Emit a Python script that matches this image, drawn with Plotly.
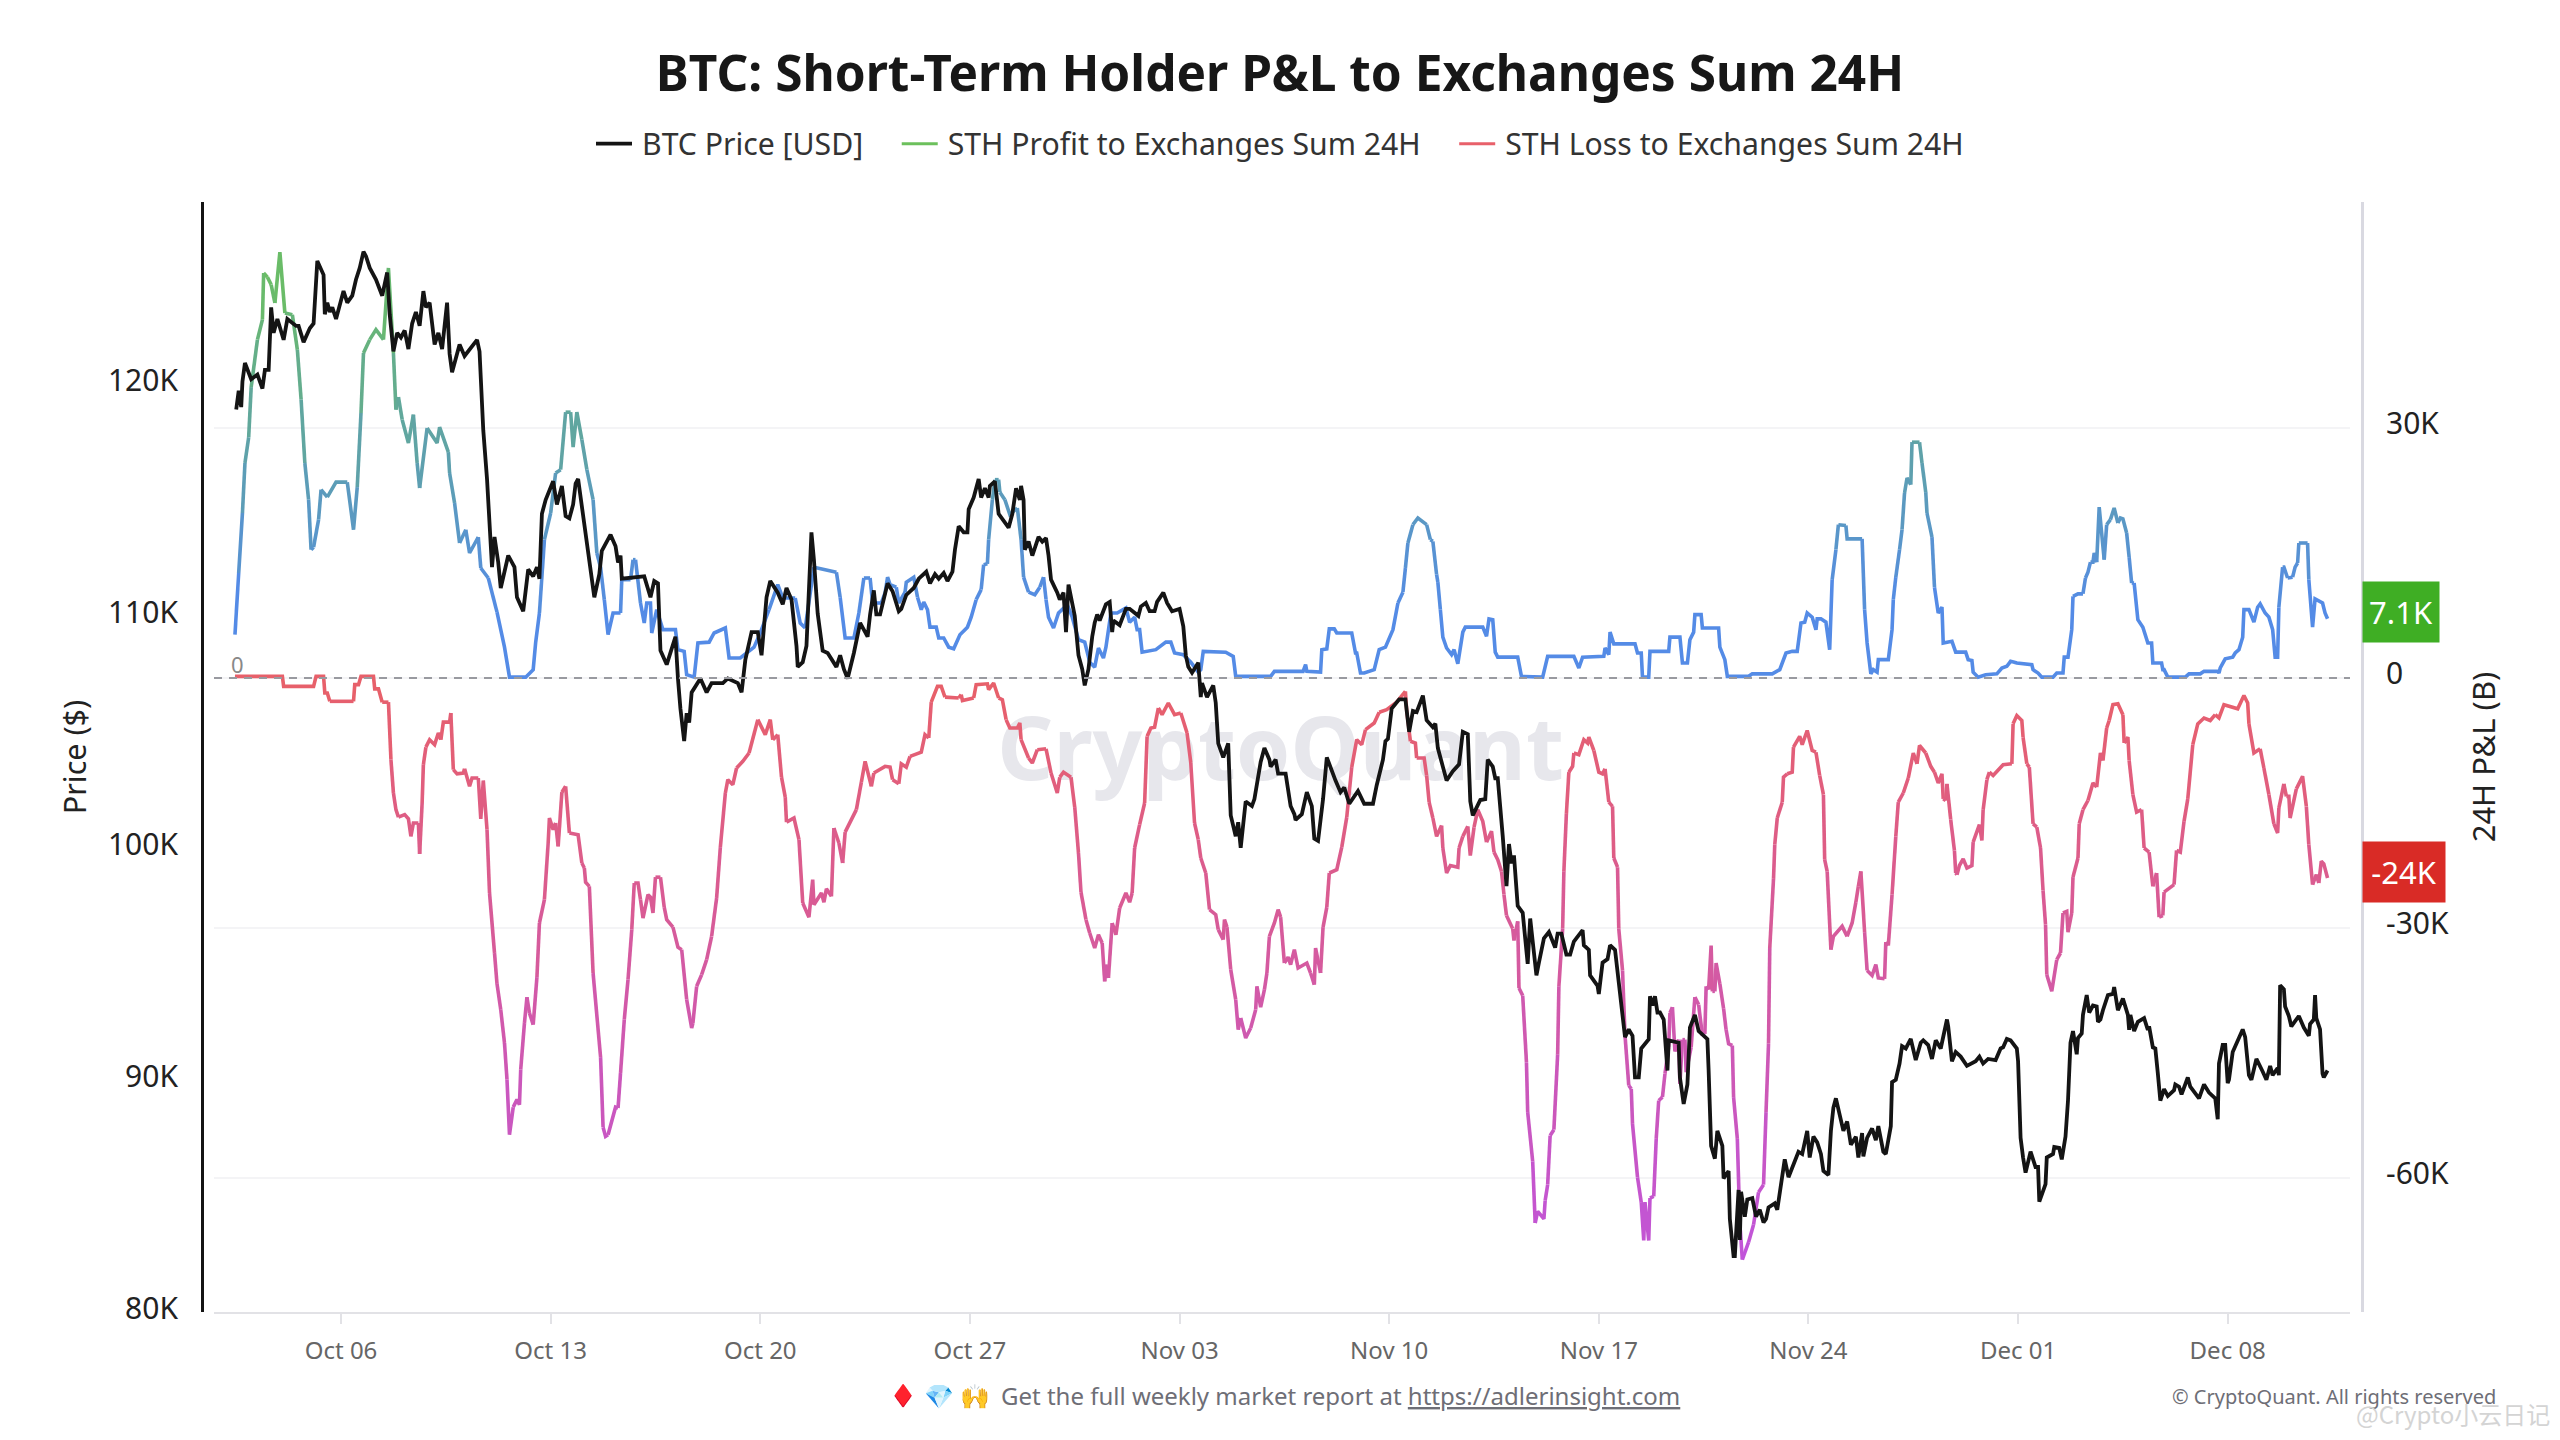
import pandas as pd
import plotly.graph_objects as go

TITLE = "BTC: Short-Term Holder P&L to Exchanges Sum 24H"
FONT = "Noto Sans"
START = pd.Timestamp("2025-10-02 11:00")
TICK_DATES = ["2025-10-06", "2025-10-13", "2025-10-20", "2025-10-27", "2025-11-03",
              "2025-11-10", "2025-11-17", "2025-11-24", "2025-12-01", "2025-12-08"]
TICK_TEXT = ["Oct 06", "Oct 13", "Oct 20", "Oct 27", "Nov 03", "Nov 10", "Nov 17", "Nov 24", "Dec 01", "Dec 08"]
PRICE_TICKS = [80, 90, 100, 110, 120]
PRICE_TEXT = ["80K", "90K", "100K", "110K", "120K"]
PNL_TICKS = [-60, -30, 0, 30]
PNL_TEXT = ["-60K", "-30K", "0", "30K"]

# (hours since START, value); values in thousands
price_points = [(1,118.9),(3,119.7),(5,119),(6,120.1),(8,120.9),(13,120.2),(18,120.4),(22,119.8),(24,120.6),(27,120.6),(29,123.3),(31,122.2),(34,122.8),(39,121.9),(42,122.8),(49,122.5),(51,122.5),(55,121.8),(60,122.4),(63,122.6),(66,125.3),(71,124.7),(72,123),(74,123.5),(76,123.1),(78,123.3),(81,122.8),(87,124),(90,123.5),(94,123.8),(97,124.5),(100,125),(103,125.7),(105,125.5),(108,125),(113,124.5),(118,123.8),(122,124.8),(124,123),(127,121.4),(130,122.2),(133,122),(136,122.3),(139,121.5),(142,122.6),(145,123.1),(148,122.5),(151,124),(153,123.3),(156,123.5),(160,121.7),(163,122.2),(166,121.5),(170,123.5),(172,121.3),(174,120.5),(178,121.3),(180,121.7),(184,121.2),(188,121.5),(194,121.9),(196,121.4),(199,118),(202,115.9),(204,114),(206,112.1),(208,113.4),(211,112.3),(213,111.2),(219,112.6),(224,112.1),(226,110.8),(231,110.2),(235,112),(239,111.7),(242,112.1),(244,111.6),(246,114.4),(249,115),(255,115.8),(258,114.8),(262,115.6),(265,114.3),(268,114.2),(271,114.8),(273,115.7),(275,115.9),(280,114),(285,112),(288,110.8),(292,111.8),(294,112.8),(301,113.5),(305,113),(307,112.3),(309,112.6),(310,111.6),(328,111.7),(333,110.8),(336,111.5),(339,111.4),(341,108.5),(346,107.9),(353,109.1),(355,107.3),(357,106),(360,104.6),(362,105.8),(364,105.4),(366,106.7),(373,107.3),(378,106.7),(382,107.1),(391,107.1),(395,107.3),(403,107.1),(406,106.7),(409,108.1),(414,109.3),(419,109.3),(422,108.3),(426,110.8),(429,111.5),(435,111),(439,110.5),(442,111.2),(446,110.7),(450,108.7),(451,107.8),(455,108),(458,108.7),(462,113.6),(464,112.4),(467,110.1),(471,108.5),(475,108.4),(482,107.8),(485,108.3),(488,107.7),(491,107.3),(496,108.4),(501,109.7),(507,109.1),(509,110.06),(512,111.1),(514,110.06),(517,110.06),(519,110.56),(523,111.4),(527,111.06),(531,110.4),(532,110.2),(534,110.3),(538,110.9),(544,111.2),(548,111.6),(554,111.9),(557,111.4),(561,111.8),(564,111.6),(568,111.85),(571,111.5),(575,111.9),(577,112.85),(580,113.86),(584,113.6),(587,113.6),(588,114.6),(592,115.1),(596,115.9),(598,115.1),(601,115.5),(604,115.1),(605,115.6),(609,115.8),(612,114.4),(620,113.8),(623,114.4),(626,115.5),(629,115),(630,115.6),(632,115),(633,112.85),(636,113.2),(639,112.6),(644,113.4),(647,113.2),(650,113.35),(652,112.6),(654,111.56),(659,111),(661,110.7),(664,111),(666,109.3),(668,111.35),(673,110),(676,108.3),(679,107.7),(681,107),(684,107.7),(687,109.1),(689,109.7),(691,110.06),(693,109.8),(698,110.5),(701,110.6),(703,109.3),(704,109.8),(709,109.6),(714,110.3),(717,110.3),(724,110),(726,110.4),(730,110.56),(733,110.2),(737,110.2),(739,110.6),(744,111),(747,110.56),(751,110.2),(757,110.3),(760,109.55),(762,108.3),(764,107.8),(767,107.55),(772,107.98),(774,106.5),(775,107.1),(779,106.5),(784,107),(786,106.25),(788,104.5),(792,103.9),(796,104.5),(798,101.4),(802,100.5),(804,101.1),(806,100),(810,102),(815,101.8),(817,102.1),(822,103.7),(825,104.3),(829,103.8),(830,103.5),(834,103.8),(836,103.2),(842,103.2),(846,101.8),(849,101.45),(850,101.2),(855,101.45),(859,102.4),(863,101.8),(865,100.4),(868,100.3),(872,102.1),(875,103.9),(882,102.9),(886,102.4),(889,102.6),(893,101.9),(900,102.45),(905,101.9),(912,101.9),(915,102.7),(920,103.8),(922,104.6),(924,104.7),(927,106),(933,106.4),(938,106.4),(941,105),(944,105.9),(947,105.85),(952,106.56),(955,105.5),(960,105.2),(962,105.35),(964,104.3),(968,103.5),(971,102.9),(976,103.3),(981,103.6),(984,105),(988,104.9),(990,102),(992,101.4),(998,102.06),(1002,102.1),(1004,103.8),(1008,103.5),(1010,103),(1012,103),(1016,100.5),(1019,98.35),(1021,100.16),(1023,99.34),(1025,99.67),(1028,97.5),(1032,97.2),(1036,95),(1038,96.95),(1040,96.05),(1043,94.5),(1045,95.05),(1049,96.1),(1053,96.37),(1058,95.7),(1060,96.3),(1063,96.3),(1067,95.4),(1070,95.4),(1073,95.96),(1080,96.45),(1081,95.8),(1085,95.6),(1086,94.5),(1092,94.05),(1093,93.7),(1096,95.05),(1100,95.2),(1102,95.8),(1106,95.6),(1109,94.2),(1112,92.75),(1114,91.84),(1117,92.17),(1120,91.9),(1122,90.1),(1125,90.1),(1127,91.35),(1133,91.75),(1134,93.6),(1136,93.2),(1138,93.6),(1140,92.9),(1142,92.9),(1145,92.6),(1148,90.4),(1149,91.7),(1157,91.6),(1158,90.1),(1161,88.96),(1164,89.8),(1166,92.25),(1170,92.8),(1173,92.1),(1180,91.75),(1181,90.4),(1183,87.15),(1186,86.6),(1188,87.8),(1192,87.15),(1193,85.75),(1197,86.07),(1198,84),(1201,82.4),(1202,82.4),(1205,85.25),(1206,83.1),(1207,85.17),(1210,84.1),(1212,84.84),(1216,84.9),(1219,84.1),(1222,84.4),(1225,83.85),(1227,84),(1229,84.5),(1234,84.67),(1236,84.4),(1238,85.17),(1242,86.57),(1245,85.8),(1249,86.3),(1253,86.9),(1256,86.8),(1260,87.8),(1262,86.65),(1265,87.55),(1268,87.3),(1271,86.8),(1273,86.07),(1277,85.9),(1279,87.8),(1281,88.8),(1283,89.2),(1289,87.8),(1292,88.2),(1295,87.2),(1299,87.55),(1301,86.65),(1304,87.7),(1305,86.7),(1308,87.5),(1312,87.9),(1315,87.4),(1317,88),(1321,86.9),(1323,86.8),(1327,88),(1328,89.9),(1331,90),(1334,90.7),(1336,91.45),(1339,91.35),(1343,91.76),(1347,90.85),(1351,91.6),(1353,91.7),(1357,91.5),(1360,90.9),(1363,91.7),(1367,91.35),(1372,92.6),(1373,92.3),(1376,90.8),(1379,91.2),(1383,91),(1388,90.6),(1395,90.8),(1398,91),(1401,90.7),(1405,90.9),(1411,90.85),(1415,91.35),(1417,91.4),(1420,91.76),(1423,91.7),(1428,91.35),(1429,90.8),(1431,87.5),(1433,86.65),(1435,86),(1439,86.9),(1443,86.24),(1445,86.24),(1446,84.75),(1451,85.5),(1452,86.65),(1457,86.8),(1458,87.1),(1462,87.06),(1464,86.57),(1467,87.55),(1469,89.1),(1471,91.6),(1473,92.1),(1476,91.1),(1477,91.8),(1480,92),(1481,92.8),(1484,93.65),(1486,92.9),(1489,93.2),(1492,93.16),(1493,92.5),(1495,92.6),(1497,93),(1501,93.65),(1505,93.7),(1506,94),(1509,93),(1513,93.5),(1517,92.8),(1518,92.15),(1519,92.8),(1522,92.1),(1525,92.5),(1530,92.66),(1533,92.15),(1534,92.3),(1537,91.4),(1539,91.35),(1541,90.27),(1543,89.1),(1546,89.6),(1549,89.3),(1554,89.55),(1555,89.8),(1558,89.7),(1560,89.37),(1565,90.1),(1567,89.7),(1574,89.2),(1578,89.8),(1582,89.45),(1587,89.2),(1589,88.3),(1590,90.7),(1593,91.5),(1595,91.5),(1597,89.86),(1598,90),(1601,91.2),(1603,91.45),(1609,92.17),(1611,91.84),(1614,90.2),(1616,90),(1620,90.9),(1625,90.36),(1628,90),(1631,90.6),(1633,90.2),(1637,90.5),(1638,90.2),(1639,94.07),(1642,93.9),(1643,93.16),(1646,92.75),(1648,92.3),(1654,92.75),(1658,92.25),(1662,91.9),(1663,92.4),(1666,92.6),(1667,93.65),(1668,92.66),(1671,92.17),(1673,90.27),(1674,90.1),(1677,90.4)]

profit_points = [(0,5.2),(3,12.6),(6,19.8),(8,25.8),(11,28.9),(13,34.9),(18,40.6),(22,43),(23,48.6),(26,48.1),(29,47.2),(32,45),(36,51.1),(40,43.8),(46,43.6),(50,39.4),(53,33.4),(56,25.8),(59,21.4),(61,15.4),(63,15.7),(67,19),(69,22.6),(74,21.7),(81,23.5),(90,23.5),(95,17.8),(98,22.9),(101,31.8),(103,39),(108,40.6),(113,41.8),(119,40.6),(123,49.2),(127,39),(129,32.2),(131,33.7),(134,31),(139,28.2),(143,31.6),(146,25.8),(148,22.8),(154,30),(162,28.2),(164,30.1),(171,27.1),(172,24.6),(176,21),(180,16.2),(185,17.8),(188,15),(195,16.9),(197,13.2),(203,12),(210,7.9),(216,3.7),(220,0.1),(233,0.1),(239,1),(241,4.3),(244,7.8),(248,16.6),(253,19.8),(257,24.6),(261,25),(265,31.9),(269,31.9),(271,27.7),(274,31.9),(278,28.6),(282,25),(287,21.4),(290,15),(293,13.3),(296,9.4),(299,5.2),(303,7.8),(309,7.8),(310,11.8),(317,11.8),(319,14.2),(321,14.2),(325,9),(328,6.6),(330,9),(333,9),(334,5.4),(338,8.2),(343,5.8),(353,5.8),(355,3.4),(360,3.2),(362,0.4),(368,0.1),(371,4.2),(380,4.3),(384,5.4),(393,6),(396,2.4),(405,2.4),(416,3.7),(421,5.4),(428,8.2),(435,11.2),(439,9.6),(449,9.6),(453,6.6),(457,6),(464,13.3),(482,12.7),(485,9.7),(489,4.8),(496,4.8),(500,7.8),(504,12),(509,12),(511,9),(518,9),(521,10.2),(523,12.1),(525,11.2),(530,10.9),(532,9),(537,10.3),(538,11.5),(544,12.1),(547,9.7),(550,8.2),(552,9.1),(555,8.2),(557,6.1),(562,6.1),(564,4.8),(568,4.8),(572,3.7),(576,3.5),(581,5.2),(587,6.1),(590,7.3),(594,9.4),(598,10.6),(600,13.6),(603,13.7),(604,16.6),(607,21.4),(609,23.8),(612,23.8),(613,22.3),(617,21.4),(621,19.6),(627,20.4),(630,16.6),(632,12.1),(636,10.3),(641,10),(645,10.9),(648,12.1),(650,9.4),(652,7.3),(656,6),(660,7.8),(667,8.8),(671,7.3),(676,4.6),(681,4.3),(685,1.9),(689,1.3),(692,3.6),(696,2.4),(698,3.7),(702,7.8),(707,7.8),(714,8.4),(717,6.7),(721,7.3),(723,5.8),(725,5.8),(727,3.1),(738,3.4),(746,4.3),(750,4.3),(753,3),(760,2.8),(766,1.9),(772,0.7),(774,1),(776,3.2),(794,3.1),(798,2.8),(800,2.6),(802,0.2),(830,0.2),(833,0.8),(856,0.8),(858,1.6),(859,0.8),(870,0.7),(871,3.4),(875,3.5),(877,5.9),(881,5.9),(883,5.4),(895,5.4),(898,3),(899,3),(902,0.6),(905,0.6),(913,1),(917,3.4),(922,3.7),(928,5.8),(932,9),(936,10.3),(938,13.2),(940,16.2),(944,18.4),(948,19.2),(955,18.4),(958,16.6),(960,16.4),(963,12.4),(964,11.5),(966,8.2),(968,4.9),(971,3.6),(975,2.8),(977,3.4),(980,1.7),(984,5.5),(986,6.1),(1000,6.1),(1003,5),(1005,7.1),(1008,7),(1010,3.1),(1012,2.5),(1028,2.5),(1031,0.2),(1048,0.1),(1052,2.6),(1073,2.6),(1077,1.2),(1080,2.5),(1097,2.6),(1098,3.6),(1101,2.8),(1102,5.5),(1105,4.1),(1122,4.1),(1124,3),(1127,3),(1128,0.1),(1133,0.1),(1134,3.2),(1149,3.2),(1150,4.9),(1158,4.9),(1160,1.8),(1164,1.8),(1166,4.6),(1169,5.5),(1170,7.6),(1175,7.6),(1176,6),(1189,6),(1190,3.7),(1194,2.2),(1196,0.2),(1213,0.2),(1216,0.5),(1232,0.5),(1238,1),(1243,3),(1248,3.2),(1252,3.2),(1255,6.6),(1258,6.7),(1260,7.8),(1264,7.3),(1267,5.8),(1268,7.1),(1271,7.1),(1275,6.7),(1278,3.4),(1280,11.8),(1283,15.4),(1285,18.4),(1291,18.3),(1292,16.7),(1304,16.7),(1306,8.2),(1308,4.2),(1311,0.5),(1313,1),(1316,0.7),(1317,2.2),(1325,2.2),(1328,5.8),(1329,9.4),(1331,12.1),(1334,15.4),(1336,17.8),(1338,22.2),(1340,24),(1343,23.2),(1344,28.3),(1350,28.3),(1352,25.8),(1355,22.3),(1356,19.8),(1360,16.9),(1362,10.9),(1365,7.8),(1368,8.5),(1369,4.2),(1376,4.4),(1379,3.1),(1387,3.1),(1389,2.2),(1392,2.1),(1393,0.7),(1397,0.1),(1403,0.4),(1412,0.5),(1416,1.2),(1420,1.4),(1423,2),(1426,1.9),(1428,1.8),(1440,1.6),(1441,1),(1445,0.6),(1448,0.1),(1457,0.1),(1460,0.6),(1465,0.6),(1466,2.5),(1469,2.5),(1472,5.8),(1473,9.8),(1477,10.1),(1481,10.1),(1483,12),(1485,12.7),(1487,13.9),(1489,13.9),(1490,15),(1492,13.9),(1494,20.5),(1498,14.2),(1500,18.4),(1503,19),(1506,20.4),(1509,18.6),(1511,19.2),(1513,19.1),(1516,17.4),(1518,14.5),(1520,11.4),(1522,11.4),(1525,7),(1529,6.1),(1533,4.2),(1536,4.2),(1537,1.8),(1544,1.8),(1545,1),(1546,1),(1549,0.1),(1563,0.1),(1566,0.5),(1575,0.5),(1578,0.8),(1589,0.8),(1590,0.6),(1591,1.2),(1595,2.3),(1601,2.5),(1603,3),(1606,3.4),(1609,4.9),(1610,8.2),(1614,8.2),(1618,6.7),(1621,8.5),(1623,8.9),(1627,7.8),(1630,7.3),(1633,5.8),(1635,2.5),(1637,2.5),(1638,8.5),(1641,13.3),(1642,13.3),(1645,12),(1649,12.1),(1651,13.3),(1653,13.8),(1654,16.2),(1661,16.2),(1662,11.8),(1665,6.1),(1667,9.5),(1673,9),(1675,7.8),(1677,7.1)]

loss_points = [(0,0.2),(38,0.2),(39,-1),(63,-1),(65,0.2),(71,0.2),(72,-1.8),(74,-1.8),(76,-2.8),(95,-2.8),(96,-0.8),(99,-0.8),(101,0.2),(111,0.2),(112,-1.3),(115,-1.3),(118,-2.9),(123,-2.9),(125,-9.8),(127,-13.8),(129,-15.8),(131,-16.7),(136,-16.4),(139,-16.9),(141,-19),(143,-17.4),(147,-17.4),(148,-21.1),(150,-15),(151,-10.4),(153,-8.3),(156,-7.4),(160,-8),(163,-6.6),(165,-7.4),(167,-5.3),(172,-5.3),(173,-4.2),(175,-11),(178,-11.5),(183,-11.4),(184,-10.9),(188,-13),(190,-12),(195,-12),(197,-16.9),(199,-12.3),(202,-18.2),(204,-25.8),(208,-33),(210,-36.7),(213,-39.8),(216,-43.8),(218,-48.2),(220,-54.8),(223,-51.5),(226,-50.6),(228,-51.2),(229,-47),(232,-41.4),(234,-38.3),(236,-40.2),(239,-41.6),(242,-35.9),(244,-29.4),(248,-26.6),(251,-19.8),(252,-16.8),(255,-18.2),(257,-17.4),(259,-20.2),(262,-13.7),(265,-13),(268,-18.6),(275,-18.8),(278,-22.2),(280,-22.8),(281,-24.5),(284,-25),(287,-35.4),(293,-45.5),(295,-53.9),(297,-55),(299,-54.8),(305,-51.5),(307,-51.6),(309,-47.4),(312,-41),(315,-36.2),(318,-30.2),(320,-24.6),(323,-24.6),(325,-26.6),(327,-28.8),(331,-26),(333,-26.3),(335,-28.2),(337,-23.9),(341,-23.9),(344,-27.5),(346,-29),(351,-29.9),(355,-32.3),(358,-32.6),(362,-38.6),(366,-42),(367,-41.4),(370,-37),(374,-35.6),(378,-33.8),(382,-31),(386,-26.4),(389,-20.3),(393,-13.8),(395,-12.2),(399,-12.8),(402,-10.8),(407,-10),(412,-9),(419,-5),(425,-6.8),(429,-5),(431,-7.4),(435,-6.8),(438,-11.9),(441,-14.3),(442,-17.3),(448,-16.8),(452,-19.4),(455,-27),(460,-28.7),(463,-24.2),(464,-27.2),(470,-25.8),(472,-26.9),(474,-25.3),(478,-26.2),(480,-18),(484,-19.8),(487,-22.2),(489,-18.5),(493,-17.3),(498,-15.8),(502,-12.5),(505,-10),(510,-13),(512,-11.4),(521,-10.6),(525,-10.7),(527,-12.2),(532,-12.7),(534,-10.3),(538,-10.7),(541,-9.4),(550,-8.9),(553,-6.8),(556,-7.2),(558,-2.9),(563,-1),(566,-1),(569,-2.3),(580,-2.4),(582,-2),(583,-2.7),(592,-2.4),(594,-0.8),(603,-0.7),(604,-1.4),(608,-0.6),(612,-2.4),(615,-2.6),(618,-5),(621,-6),(627,-6),(629,-5.4),(630,-7.4),(636,-9.6),(639,-10.2),(643,-8.6),(650,-8.5),(654,-11.4),(659,-13.8),(661,-11.9),(664,-11.3),(670,-11.9),(673,-15.5),(676,-21),(678,-25.7),(682,-29),(685,-30.6),(689,-32.4),(692,-30.8),(695,-31.8),(697,-36.4),(698,-34.4),(700,-36),(703,-29.4),(706,-30.8),(709,-27.6),(714,-25.8),(717,-26.9),(719,-25.8),(721,-20.4),(725,-17.6),(729,-15),(731,-7),(734,-6),(737,-5.9),(740,-3.6),(743,-4.4),(748,-3),(753,-4.4),(758,-4.2),(763,-6.6),(766,-10.2),(769,-17.4),(772,-19.4),(774,-21.6),(778,-23.4),(781,-27.8),(786,-28.4),(788,-30.2),(792,-31.4),(793,-29),(795,-29.9),(798,-35),(802,-38.6),(804,-42.2),(806,-40.8),(810,-43.2),(814,-42),(818,-39.8),(819,-37),(822,-39.5),(825,-37.4),(827,-35.4),(829,-31),(833,-29.4),(836,-27.8),(838,-28.7),(841,-34.2),(844,-33.5),(846,-34.4),(849,-32.6),(852,-34.8),(859,-34.2),(862,-35.4),(865,-36.8),(866,-32.4),(870,-35.4),(872,-29.9),(875,-27.5),(877,-23.4),(883,-23),(887,-20.3),(891,-16.7),(895,-10.7),(899,-7.4),(903,-8),(906,-6.2),(913,-5.4),(917,-4.1),(923,-3.8),(931,-2.9),(938,-1.6),(939,-3.9),(942,-7.6),(946,-7.8),(947,-9.6),(953,-9.6),(955,-11.7),(957,-14.9),(960,-16.8),(963,-19),(967,-17.7),(968,-20.4),(969,-21.6),(971,-23.4),(974,-22.5),(980,-22.7),(981,-20.4),(984,-19),(988,-17.8),(990,-21.3),(993,-17.9),(996,-15.8),(1000,-17.2),(1003,-19.7),(1007,-18.4),(1009,-20.9),(1012,-21.8),(1015,-23.2),(1017,-26),(1019,-28.5),(1024,-30.1),(1025,-31.5),(1028,-29.2),(1029,-37.2),(1032,-38.1),(1035,-46.1),(1036,-52.1),(1040,-58),(1042,-65.4),(1044,-64),(1049,-64.9),(1050,-62.7),(1052,-60.8),(1054,-54.9),(1057,-54.2),(1060,-45.2),(1061,-37),(1064,-30.1),(1065,-23.2),(1067,-16.3),(1069,-11.3),(1072,-10.6),(1073,-9),(1077,-9.2),(1081,-7.4),(1084,-7.8),(1085,-7.1),(1089,-8.7),(1093,-11.3),(1096,-11.5),(1098,-10.9),(1101,-14.9),(1104,-15.4),(1105,-21.6),(1108,-22.7),(1109,-30.1),(1112,-35.1),(1114,-42.9),(1117,-48.9),(1119,-49.3),(1120,-53.5),(1124,-59.9),(1127,-62.9),(1129,-67.5),(1130,-62.9),(1133,-67.5),(1134,-62.4),(1137,-62.2),(1139,-55.3),(1141,-50.7),(1144,-50.3),(1146,-47.5),(1149,-44.3),(1150,-40.2),(1152,-39.5),(1154,-44.8),(1157,-43.4),(1158,-48.7),(1160,-43.4),(1162,-43.4),(1163,-47.3),(1167,-44.3),(1170,-38.3),(1173,-39.2),(1176,-42.9),(1178,-42.7),(1179,-37),(1181,-37.4),(1183,-32.1),(1184,-37.6),(1186,-37.6),(1187,-34.2),(1190,-36.7),(1193,-39.7),(1195,-42.2),(1197,-43.9),(1200,-44.1),(1201,-50.3),(1204,-55.3),(1206,-65.4),(1208,-69.8),(1213,-67.7),(1217,-65.6),(1221,-61.7),(1225,-60.8),(1227,-52.1),(1229,-43.9),(1230,-32.4),(1233,-24.1),(1234,-20),(1236,-16.8),(1240,-14.9),(1241,-11.9),(1244,-11.5),(1248,-11.3),(1249,-8.3),(1254,-7),(1256,-8),(1260,-6.3),(1264,-8.7),(1267,-8.9),(1270,-11.7),(1273,-14),(1274,-21.8),(1276,-23.2),(1279,-32.6),(1281,-31),(1288,-29.8),(1292,-31),(1296,-29.4),(1299,-26.9),(1301,-25),(1303,-23.2),(1306,-30.5),(1308,-35.1),(1312,-35.7),(1315,-34.4),(1317,-36),(1322,-36.1),(1323,-31.7),(1325,-32.1),(1328,-26),(1331,-19),(1333,-14.9),(1337,-13.8),(1341,-12),(1345,-9),(1348,-10.3),(1350,-8.1),(1355,-9),(1359,-10.6),(1362,-11.3),(1365,-12.6),(1368,-11.5),(1369,-14.5),(1371,-14.7),(1372,-12.7),(1375,-17),(1378,-20.7),(1379,-23.4),(1380,-23.6),(1382,-22.5),(1385,-21.7),(1388,-22.8),(1392,-22.5),(1393,-19.7),(1398,-17.6),(1400,-19.5),(1401,-15.8),(1404,-12.2),(1406,-11.3),(1409,-11.7),(1417,-10.4),(1424,-10.3),(1425,-5.5),(1428,-4.5),(1432,-5.1),(1433,-7.1),(1436,-10.3),(1438,-10.7),(1441,-17.5),(1444,-17.9),(1447,-20.4),(1449,-25.5),(1451,-29.6),(1452,-35.6),(1456,-37.6),(1460,-33.8),(1463,-33),(1465,-28.2),(1468,-28),(1469,-30.5),(1472,-28.2),(1473,-23.9),(1477,-21.6),(1478,-17.5),(1481,-15.8),(1485,-14.7),(1489,-12.6),(1492,-13.1),(1495,-9),(1497,-9.9),(1500,-6),(1502,-5.1),(1505,-3.2),(1509,-3.1),(1513,-4.4),(1514,-7.8),(1517,-7.1),(1518,-9.9),(1521,-14),(1524,-16.1),(1528,-15.8),(1530,-20.4),(1534,-20.9),(1537,-25),(1540,-23.4),(1542,-28.7),(1545,-28.5),(1546,-25.7),(1550,-25.3),(1554,-24.8),(1556,-20.7),(1559,-20.9),(1562,-17.2),(1565,-14.5),(1569,-8),(1573,-5.5),(1578,-4.8),(1583,-5.1),(1587,-4.4),(1590,-4.8),(1594,-3.2),(1605,-3.7),(1610,-2.1),(1613,-3),(1614,-5.5),(1618,-9),(1623,-8.5),(1626,-10.8),(1630,-14),(1634,-17.5),(1637,-18.6),(1638,-15.6),(1642,-12.7),(1644,-14.2),(1646,-14.2),(1647,-16.8),(1650,-14.9),(1652,-13.3),(1657,-11.8),(1660,-15.4),(1662,-20),(1665,-24.8),(1668,-23.6),(1670,-24.6),(1672,-22),(1674,-22.3),(1677,-24)]


def when(h):
    return START + pd.Timedelta(hours=h)


def hexmix(a, b, t):
    t = max(0.0, min(1.0, t))
    return "#%02x%02x%02x" % tuple(round(a[i] + (b[i] - a[i]) * t) for i in range(3))


def gradient_traces(points, top, bottom, c_top, c_bottom, bands, name):
    """One trace per colour band, so the line shifts colour with its height."""
    traces = {}
    last = None
    for (h0, v0), (h1, v1) in zip(points, points[1:]):
        mid = (v0 + v1) / 2
        t = max(0.0, min(0.999, (top - mid) / (top - bottom)))
        b = int(t * bands)
        xs, ys = traces.setdefault(b, ([], []))
        if last == b:
            xs.append(when(h1)); ys.append(v1)
        else:
            if xs:
                xs.append(None); ys.append(None)
            xs.extend([when(h0), when(h1)]); ys.extend([v0, v1])
        last = b
    out = []
    for b, (xs, ys) in sorted(traces.items()):
        out.append(go.Scatter(x=xs, y=ys, mode="lines", showlegend=False, hoverinfo="skip", name=name,
                              line=dict(color=hexmix(c_top, c_bottom, (b + 0.5) / bands), width=3.6)))
    return out


def px(x):
    return x / 2560


def py(y):
    return 1 - y / 1440


fig = go.Figure()
fig.add_trace(go.Scatter(x=[when(838)], y=[-9.6], mode="text", text=["<b>CryptoQuant</b>"], showlegend=False,
                         hoverinfo="skip", textfont=dict(family=FONT, size=87.5, color="#e7e7ec")))
for t in gradient_traces(loss_points, 0, -70, (232, 96, 104), (192, 84, 220), 30, "STH Loss to Exchanges Sum 24H"):
    fig.add_trace(t)
for t in gradient_traces(profit_points, 51, 8, (108, 192, 92), (84, 138, 232), 30, "STH Profit to Exchanges Sum 24H"):
    fig.add_trace(t)
PAD = "\u2009"
GAP = "\u00a0\u00a0\u00a0\u2009"
fig.add_trace(go.Scatter(x=[when(h) for h, _ in price_points], y=[v for _, v in price_points], yaxis="y2", mode="lines",
                         name=PAD + "BTC Price [USD]" + GAP, legendrank=1, line=dict(color="#141414", width=3.8)))
fig.add_trace(go.Scatter(x=[None], y=[None], mode="lines", name=PAD + "STH Profit to Exchanges Sum 24H" + GAP,
                         legendrank=2, line=dict(color="#6cc05c", width=3)))
fig.add_trace(go.Scatter(x=[None], y=[None], mode="lines", name=PAD + "STH Loss to Exchanges Sum 24H",
                         legendrank=3, line=dict(color="#e8606a", width=3)))

fig.update_layout(
    width=2560, height=1440, margin=dict(l=0, r=0, t=0, b=0), paper_bgcolor="white", plot_bgcolor="white",
    font=dict(family=FONT, color="#1c1c1c", size=30),
    title=dict(text=f"<b>{TITLE}</b>", x=0.5, xanchor="center", y=py(74), yanchor="middle",
               font=dict(family=FONT, size=49.6, color="#171717")),
    legend=dict(orientation="h", x=0.5, xanchor="center", y=py(144), yanchor="middle", itemwidth=36,
                font=dict(family=FONT, size=30.2, color="#333"), bgcolor="rgba(0,0,0,0)"),
    xaxis=dict(domain=[px(214), px(2350)], range=[when(-16.8), when(1695)], anchor="y", type="date", automargin=False,
               tickmode="array", tickvals=TICK_DATES, ticktext=TICK_TEXT, showgrid=False, zeroline=False,
               showline=True, linecolor="#e2e2e6", linewidth=2, ticks="outside", ticklen=10, tickcolor="#e2e2e6",
               tickwidth=2, ticklabelstandoff=6, tickfont=dict(family=FONT, size=24, color="#666")),
    yaxis=dict(domain=[py(1312), py(202)], range=[-76.08, 57.12], anchor="free", position=px(2362), side="right",
               automargin=False, tickmode="array", tickvals=PNL_TICKS, ticktext=PNL_TEXT,
               showgrid=True, gridcolor="#f4f4f6", gridwidth=1.5, zeroline=False, showline=True,
               linecolor="#d9d9e1", linewidth=3, ticks="outside", ticklen=16, tickcolor="rgba(0,0,0,0)",
               ticklabelshift=-5, tickfont=dict(family=FONT, size=30, color="#222"),
               title=dict(text="24H P&L (B)", standoff=25, font=dict(family=FONT, size=31, color="#222"))),
    yaxis2=dict(domain=[py(1312), py(202)], range=[79.99, 127.84], anchor="free", position=px(202), side="left",
                overlaying="y", automargin=False, tickmode="array", tickvals=PRICE_TICKS, ticktext=PRICE_TEXT,
                showgrid=False, zeroline=False, showline=True, linecolor="#141414", linewidth=3, ticks="outside",
                ticklen=17, tickcolor="rgba(0,0,0,0)", ticklabelshift=-3,
                tickfont=dict(family=FONT, size=30, color="#222"),
                title=dict(text="Price ($)", standoff=11, font=dict(family=FONT, size=30.5, color="#222"))),
)

fig.add_shape(type="line", xref="x domain", yref="y", x0=0, x1=1, y0=0, y1=0, layer="above",
              line=dict(color="#999aa0", width=2, dash="8px,7px"))

annots = [
    dict(x=px(237), y=py(664), text="0", font=dict(size=22, color="#888")),
    dict(x=px(2362), y=py(611.5), xanchor="left", text="7.1K", width=74, height=58, bgcolor="#3fae24",
         font=dict(size=31, color="white")),
    dict(x=px(2362), y=py(871.5), xanchor="left", text="-24K", width=80, height=58, bgcolor="#d92b26",
         font=dict(size=31, color="white")),
    dict(x=px(999), y=py(1395), xanchor="left",
         text='Get the full weekly market report at <span style="text-decoration:underline">https://adlerinsight.com</span>',
         font=dict(size=24, color="#6e6e76")),
    dict(x=px(903), y=py(1395), text="♦️", font=dict(size=21)),
    dict(x=px(939), y=py(1395), text="💎", font=dict(size=24)),
    dict(x=px(975), y=py(1395), text="🙌", font=dict(size=24)),
    dict(x=px(2498), y=py(1396), xanchor="right", text="© CryptoQuant. All rights reserved",
         font=dict(size=20, color="#6e6e76")),
    dict(x=px(2552), y=py(1413), xanchor="right", text="@Crypto小云日记",
         font=dict(family="Noto Sans CJK SC", size=24, color="#d4d4d4")),
]
for a in annots:
    fig.add_annotation(xref="paper", yref="paper", showarrow=False, yanchor="middle", **{"xanchor": "center", **a})

fig.write_html("out.html", config={"displayModeBar": False}, post_script="document.body.style.margin='0';")
